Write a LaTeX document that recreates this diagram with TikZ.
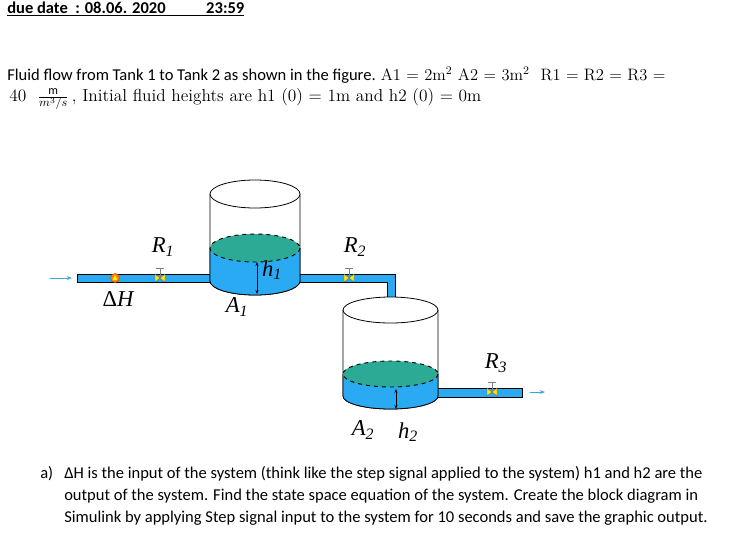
\documentclass[tikz,border=0pt]{standalone}
\usepackage{fontspec}
\setmainfont{Carlito}
\newfontfamily\mathserif{Latin Modern Roman}
\newfontfamily\lmit{Liberation Serif}
\usetikzlibrary{arrows.meta}
\definecolor{water}{HTML}{2AAAF2}
\definecolor{surf}{HTML}{2DAA96}
\definecolor{flow}{HTML}{3BA7E0}
\tikzset{
  pipe/.style={draw=black,fill=water,line width=0.6pt},
  lbl/.style={font=\fontsize{17}{17}\selectfont\lmit\itshape,inner sep=0pt},
  txt/.style={anchor=west,inner sep=0pt,font=\fontsize{12.4}{14}\selectfont},
  flowarr/.style={-{Stealth[length=4pt]},draw=flow,line width=0.6pt}
}
\newcommand{\valveat}[2]{%
  \fill[yellow!90!orange,draw=black!60,line width=0.3pt] (#1-5,#2-4)--(#1+5,#2+4)--(#1+5,#2-4)--(#1-5,#2+4)--cycle;
  \draw[gray,line width=0.6pt] (#1,#2)--(#1,#2-10) (#1-4,#2-10)--(#1+4,#2-10);}
\newcommand{\tankat}[6]{% xl xr ytop ywater ybot ry
  \fill[white,draw=black,line width=0.6pt] (#1,#3)--(#1,#5) arc[start angle=180,end angle=0,x radius={(#2-#1)/2},y radius=#6]--(#2,#3);
  \fill[water] (#1,#4)--(#1,#5) arc[start angle=180,end angle=0,x radius={(#2-#1)/2},y radius=#6]--(#2,#4)--cycle;
  \draw[line width=0.6pt] (#1,#4)--(#1,#5) arc[start angle=180,end angle=0,x radius={(#2-#1)/2},y radius=#6]--(#2,#4);
  \fill[surf] ({(#1+#2)/2},#4) ellipse[x radius={(#2-#1)/2},y radius=#6];
  \draw[dashed,line width=0.7pt] ({(#1+#2)/2},#4) ellipse[x radius={(#2-#1)/2},y radius=#6];
  \draw[fill=white,line width=0.6pt] ({(#1+#2)/2},#3) ellipse[x radius={(#2-#1)/2},y radius=#6];}
\begin{document}
\begin{tikzpicture}[x=0.75pt,y=-0.75pt]
\useasboundingbox (0,0) rectangle (729,544);
% header
\node[txt,font=\fontsize{12.4}{14}\selectfont\bfseries] (hdr) at (7,9) {\underline{due date\ \ : 08.06. 2020\qquad\ \ 23:59}};
\node[txt] (l1) at (7,75) {Fluid flow from Tank 1 to Tank 2 as shown in the figure. {\mathserif A1 = 2m\textsuperscript{2} A2 = 3m\textsuperscript{2} \ R1 = R2 = R3 =}};
\node[txt,font=\fontsize{13}{14}\selectfont\mathserif] (l2) at (9,99) {40 \ $\frac{\mathrm{m}}{m^3/s}$\,, Initial fluid heights are h1 (0) = 1m and h2 (0) = 0m};
% pipes
\draw[flowarr] (50,278) -- (72,278);
\draw[pipe] (77,274) rectangle (215,282);
\draw[pipe] (295,274) -- (395,274) -- (395,305) -- (387,305) -- (387,282) -- (295,282) -- cycle;
\draw[pipe] (432,388) rectangle (522,397);
\draw[flowarr] (530,392) -- (545,392);
% tanks
\tankat{210}{300}{194}{248}{281}{14}
\tankat{343}{438}{310}{374}{396}{13}
% pump & valves
\fill[orange,draw=orange!70!black,line width=0.4pt] (115,278) circle (4.5);
\fill[yellow] (112.5,280)--(117.5,280)--(115,275)--cycle;
\valveat{160}{278}
\valveat{349}{278}
\valveat{492}{392}
% height arrows
\draw[{Stealth[length=3pt]}-{Stealth[length=3pt]},line width=0.5pt] (257,262)--(257,294);
\draw[{Stealth[length=3pt]}-{Stealth[length=3pt]},line width=0.5pt] (396,389)--(396,409);
% labels
\node[lbl] (r1) at (163,247) {R\textsubscript{1}};
\node[lbl] (r2) at (355,247) {R\textsubscript{2}};
\node[lbl] (r3) at (496,363) {R\textsubscript{3}};
\node[lbl] (dh) at (118,299) {{\upshape Δ}H};
\node[lbl] (a1) at (237,307) {A\textsubscript{1}};
\node[lbl] (hh1) at (272,270) {h\textsubscript{1}};
\node[lbl] (a2) at (363,430) {A\textsubscript{2}};
\node[lbl] (hh2) at (408,432) {h\textsubscript{2}};
% question
\node[txt] (qa) at (40,474) {a)};
\node[txt] (q1) at (64,474) {ΔH is the input of the system (think like the step signal applied to the system) h1 and h2 are the};
\node[txt] (q2) at (64,496) {output of the system. Find the state space equation of the system. Create the block diagram in};
\node[txt] (q3) at (64,518) {Simulink by applying Step signal input to the system for 10 seconds and save the graphic output.};
\end{tikzpicture}
\end{document}
